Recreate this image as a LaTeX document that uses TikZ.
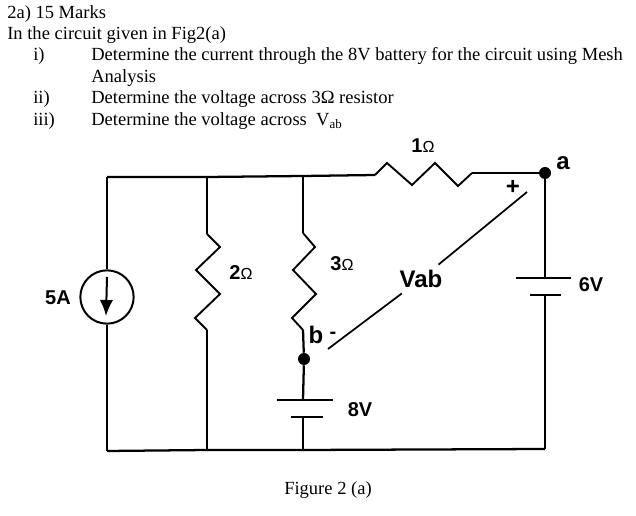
\documentclass[tikz,border=0pt]{standalone}
\usepackage{fontspec}
\usetikzlibrary{arrows.meta}
\setmainfont{Liberation Serif}
\newfontfamily\labelfont{Liberation Sans}
\newcommand{\ohm}{{\mdseries\fontsize{12}{14}\selectfont\symbol{"03A9}}}
\tikzstyle{wire} = [line width=1.7pt,line join=miter]
\tikzstyle{res} = [line width=1.4pt]
\tikzstyle{plate} = [line width=1.8pt]
\tikzstyle{junction} = [circle,fill=black,inner sep=0pt,minimum size=9pt]
\tikzstyle{source} = [circle,draw=black,line width=1.5pt,minimum size=40pt,inner sep=0pt]
\tikzstyle{body} = [anchor=base west,inner sep=0pt,font=\fontsize{13.9}{16}\selectfont]
\tikzstyle{value} = [inner sep=0pt,font=\labelfont\fontsize{15}{17}\selectfont\bfseries]
\tikzstyle{big} = [inner sep=0pt,font=\labelfont\fontsize{18}{20}\selectfont\bfseries]
\begin{document}
\begin{tikzpicture}[>=latex,x=0.75pt,y=-0.75pt]

	\useasboundingbox (0,0) rectangle (636,516);

	% question text
	\node (head) [body] at (7,19) {2a) 15 Marks};
	\node (intro) [body] at (7,40) {In the circuit given in Fig2(a)};
	\node (num_i) [body] at (33,61) {i)};
	\node (line_i) [body] at (91,61) {Determine the current through the 8V battery for the circuit using Mesh};
	\node (line_ib) [body] at (91,83) {Analysis};
	\node (num_ii) [body] at (33,104) {ii)};
	\node (line_ii) [body] at (91,104) {Determine the voltage across 3\symbol{"03A9} resistor};
	\node (num_iii) [body] at (33,126) {iii)};
	\node (line_iii) [body] at (91,126) {Determine the voltage across\ \ V\textsubscript{ab}};
	\node (caption) [body,anchor=base] at (328,495) {Figure 2 (a)};

	% corners and tees
	\coordinate (tl) at (107,177);
	\coordinate (bl) at (107,451);
	\coordinate (br) at (545,449);
	\coordinate (t2) at (207,177);
	\coordinate (t3) at (303,176);
	\coordinate (b2) at (207,450);
	\coordinate (b3) at (303,450);
	\coordinate (r1a) at (375,175);
	\coordinate (r1b) at (472,173);
	\coordinate (r2a) at (207,234);
	\coordinate (r2b) at (207,330);
	\coordinate (r3a) at (303,233);
	\coordinate (r3b) at (303,330);

	% parts
	\node (src) [source] at (107,297) {};
	\node (a) [junction] at (545,173) {};
	\node (b) [junction] at (304,359) {};

	\coordinate (p6a) at (545,278);
	\coordinate (p6b) at (545,295);
	\coordinate (p8a) at (303,400);
	\coordinate (p8b) at (303,417);

	% wires
	\draw[wire] (tl) -- (t2) -- (t3) -- (r1a);
	\draw[wire] (r1b) -- (a);
	\draw[wire] (a) -- (p6a);
	\draw[wire] (p6b) -- (br);
	\draw[wire] (bl) -- (b2) -- (b3) -- (br);
	\draw[wire] (tl) -- (src);
	\draw[wire] (src) -- (bl);
	\draw[wire] (t2) -- (r2a);
	\draw[wire] (r2b) -- (b2);
	\draw[wire] (t3) -- (r3a);
	\draw[wire] (r3b) -- (b);
	\draw[wire] (b) -- (p8a);
	\draw[wire] (p8b) -- (b3);

	% resistors
	\draw[res] (r1a) -- (387,163) -- (412,185) -- (435,163) -- (458,186) -- (r1b);
	\draw[res] (r2a) -- (220,247) -- (196,270) -- (220,294) -- (195,318) -- (r2b);
	\draw[res] (r3a) -- (315,247) -- (293,270) -- (316,294) -- (292,318) -- (r3b);

	% batteries
	\draw[plate] (516,278) -- (571,278);
	\draw[plate] (530,295) -- (561,295);
	\draw[plate] (277,400) -- (333,400);
	\draw[plate] (291,417) -- (323,417);

	% source arrow
	\draw[-{Latex[length=12pt,width=10pt]},line width=1.5pt] (107,277) -- (106,316);

	% labels
	\node (lab1) [value] at (423,146) {1\ohm};
	\node (lab2) [value] at (241,273) {2\ohm};
	\node (lab3) [value] at (342,264) {3\ohm};
	\node (lab5a) [value] at (58,298) {5A};
	\node (lab6v) [value] at (591,285) {6V};
	\node (lab8v) [value] at (360,410) {8V};
	\node (laba) [big] at (563,163) {a};
	\node (labb) [big] at (316,335) {b};
	\node (vab) [big,inner sep=4pt] at (421,279) {Vab};
	\node (plus) [big] at (513,187) {+};
	\node (minus) [value] at (333,335) {-};

	% voltage pointer
	\coordinate (vp) at (527,192);
	\coordinate (vm) at (328,349);
	\path[line width=1.3pt]
		(vp) edge (vab)
		(vab) edge (vm)
		;

\end{tikzpicture}
\end{document}
